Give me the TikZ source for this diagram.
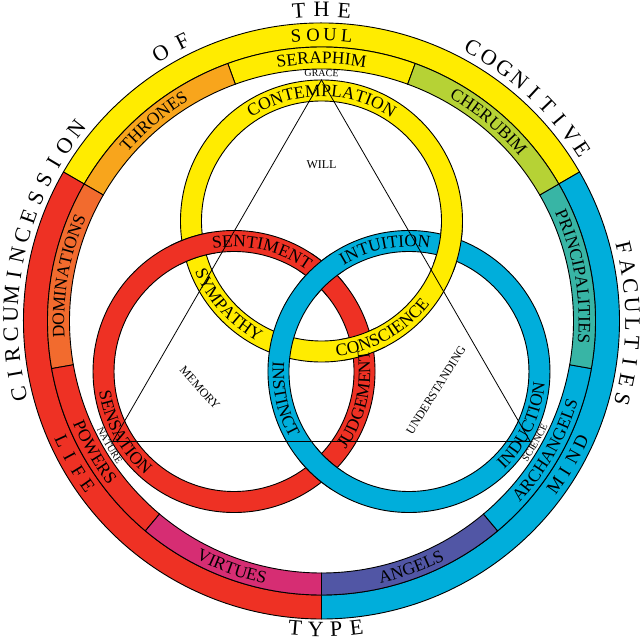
\documentclass[tikz,border=0pt]{standalone}
\usepackage{fontspec}
\setmainfont{Liberation Serif}
\usetikzlibrary{decorations.text}
\definecolor{cyel}{RGB}{255,236,0}
\definecolor{cred}{RGB}{238,49,36}
\definecolor{cblu}{RGB}{0,174,219}
\definecolor{cora}{RGB}{248,165,28}
\definecolor{cgrn}{RGB}{182,210,53}
\definecolor{cdom}{RGB}{242,107,46}
\definecolor{cvir}{RGB}{214,45,115}
\definecolor{cang}{RGB}{81,86,165}
\definecolor{cpri}{RGB}{56,181,165}
\tikzset{
  edgeline/.style={draw=black, line width=0.9pt},
  bigletter/.style={inner sep=0pt, outer sep=0pt, font=\fontsize{22}{22}\selectfont},
  bandletter/.style={inner sep=0pt, outer sep=0pt, font=\fontsize{18.5}{18.5}\selectfont},
  smalllabel/.style={inner sep=0pt, outer sep=0pt, font=\fontsize{12}{12}\selectfont},
}
% annular sector: colour, a1, a2, r_in, r_out
\newcommand\bandsector[5]{%
  \filldraw[fill=#1, edgeline] (#2:#5) arc[start angle=#2, end angle=#3, radius=#5]
    -- (#3:#4) arc[start angle=#3, end angle=#2, radius=#4] -- cycle;}
% ring: cx, cy, colour
\newcommand\fullring[3]{%
  \fill[#3, even odd rule] (#1,#2) circle[radius=141pt] (#1,#2) circle[radius=120pt];
  \draw[edgeline] (#1,#2) circle[radius=141pt] (#1,#2) circle[radius=120pt];}
% overlay of a ring piece: cx, cy, colour, angle
\newcommand\ringover[4]{%
  \begin{scope}[shift={(#1,#2)}]
  \fill[#3] ({#4-9}:141pt) arc[start angle={#4-9}, end angle={#4+9}, radius=141pt]
    -- ({#4+9}:120pt) arc[start angle={#4+9}, end angle={#4-9}, radius=120pt] -- cycle;
  \draw[edgeline] ({#4-9}:141pt) arc[start angle={#4-9}, end angle={#4+9}, radius=141pt];
  \draw[edgeline] ({#4-9}:120pt) arc[start angle={#4-9}, end angle={#4+9}, radius=120pt];
  \end{scope}}
% text along arcs: cx, cy, baseline radius, centre angle, size, text
\newcommand\cwtext[6]{%
  \path[shift={(#1,#2)}, decorate, decoration={text along path, text align=center,
    text={|\fontsize{#5}{#5}\selectfont|#6}}]
    ({#4+70}:#3) arc[start angle={#4+70}, end angle={#4-70}, radius=#3];}
\newcommand\ccwtext[6]{%
  \path[shift={(#1,#2)}, decorate, decoration={text along path, text align=center,
    text={|\fontsize{#5}{#5}\selectfont|#6}}]
    ({#4-70}:#3) arc[start angle={#4-70}, end angle={#4+70}, radius=#3];}
% spaced letters: radius, first angle, step, style, list
\newcommand\cwletters[5]{%
  \foreach \ch [count=\i] in {#5} {
    \pgfmathsetmacro\ang{#2-(\i-1)*#3}
    \node[#4, rotate=\ang-90] at (\ang:#1) {\ch};}}
\newcommand\ccwletters[5]{%
  \foreach \ch [count=\i] in {#5} {
    \pgfmathsetmacro\ang{#2+(\i-1)*#3}
    \node[#4, rotate=\ang+90] at (\ang:#1) {\ch};}}
\begin{document}
\begin{tikzpicture}[x=1pt, y=1pt]
\useasboundingbox (-321.5,-319) rectangle (321.5,321);
\fill[white] (-321.5,-319) rectangle (321.5,321);

% outer band
\bandsector{cyel}{30}{150}{274pt}{298pt}
\bandsector{cred}{150}{270}{274pt}{298pt}
\bandsector{cblu}{270}{390}{274pt}{298pt}
% choir band
\bandsector{cyel}{70}{110}{252pt}{274pt}
\bandsector{cora}{110}{150}{252pt}{274pt}
\bandsector{cdom}{150}{190}{252pt}{274pt}
\bandsector{cred}{190}{230}{252pt}{274pt}
\bandsector{cvir}{230}{270}{252pt}{274pt}
\bandsector{cang}{270}{310}{252pt}{274pt}
\bandsector{cblu}{310}{350}{252pt}{274pt}
\bandsector{cpri}{350}{390}{252pt}{274pt}
\bandsector{cgrn}{30}{70}{252pt}{274pt}

% three rings
\fullring{0}{100}{cyel}
\fullring{-87.47}{-50.5}{cred}
\fullring{87.47}{-50.5}{cblu}
% crossings
\ringover{0}{100}{cyel}{347.9}
\ringover{-87.47}{-50.5}{cred}{107.9}
\ringover{87.47}{-50.5}{cblu}{227.9}
\ringover{0}{100}{cyel}{287.9}
\ringover{-87.47}{-50.5}{cred}{47.9}
\ringover{87.47}{-50.5}{cblu}{132.1}

% triangle
\coordinate (grace) at (90:241pt);
\coordinate (nature) at (210:241pt);
\coordinate (science) at (330:241pt);
\draw[black, line width=0.8pt] (grace) -- (nature) -- (science) -- cycle;

% outer words
\cwletters{311pt}{193.6}{3.69}{bigletter}{C,I,R,C,U,M,I,N,C,E,S,S,I,O,N}
\cwletters{312pt}{121}{4.5}{bigletter}{O,F}
\cwletters{311.5pt}{94.2}{4.2}{bigletter}{T,H,E}
\cwletters{312pt}{61}{3.46}{bigletter}{C,O,G,N,I,T,I,V,E}
\cwletters{311pt}{13.6}{3.53}{bigletter}{F,A,C,U,L,T,I,E,S}
\ccwletters{308.5pt}{265.1}{3.8}{bigletter}{T,Y,P,E}

% outer band words
\cwletters{286pt}{95.1}{3.4}{bandletter}{S,O,U,L}
\ccwletters{286pt}{204.9}{3.4}{bandletter}{L,I,F,E}
\ccwletters{286pt}{324.9}{3.4}{bandletter}{M,I,N,D}

% choirs
\cwtext{0}{0}{257.2pt}{90}{17.5}{SERAPHIM}
\cwtext{0}{0}{257.2pt}{130}{17.5}{THRONES}
\cwtext{0}{0}{257.2pt}{50}{17.5}{CHERUBIM}
\cwtext{0}{0}{257.2pt}{170}{17.5}{DOMINATIONS}
\cwtext{0}{0}{257.2pt}{10}{17.5}{PRINCIPALITIES}
\ccwtext{0}{0}{268.8pt}{210}{17.5}{POWERS}
\ccwtext{0}{0}{268.8pt}{250}{17.5}{VIRTUES}
\ccwtext{0}{0}{268.8pt}{290}{17.5}{ANGELS}
\ccwtext{0}{0}{268.8pt}{330}{17.5}{ARCHANGELS}

% vertex words
\cwtext{0}{0}{244.7pt}{90}{10}{GRACE}
\ccwtext{0}{0}{249.3pt}{210.4}{10}{NATURE}
\ccwtext{0}{0}{249.3pt}{330.3}{10}{SCIENCE}

% ring words
\cwtext{0}{100}{124.7pt}{90}{17.5}{CONTEMPLATION}
\ccwtext{0}{100}{136.3pt}{222}{17.5}{SYMPATHY}
\ccwtext{0}{100}{136.3pt}{299.5}{17.5}{CONSCIENCE}
\cwtext{-87.47}{-50.5}{124.7pt}{77}{17.5}{SENTIMENT}
\ccwtext{-87.47}{-50.5}{136.3pt}{209}{17.5}{SENSATION}
\ccwtext{-87.47}{-50.5}{136.3pt}{347}{17.5}{JUDGEMENT}
\cwtext{87.47}{-50.5}{124.7pt}{101}{17.5}{INTUITION}
\ccwtext{87.47}{-50.5}{136.3pt}{192.6}{17.5}{INSTINCT}
\ccwtext{87.47}{-50.5}{136.3pt}{334.7}{17.5}{INDUCTION}

% inner words
\node[smalllabel] (will) at (0,156) {WILL};
\node[smalllabel, rotate=-48] (memory) at (-121.5,-67) {MEMORY};
\node[smalllabel, rotate=58] (understanding) at (114.5,-69) {UNDERSTANDING};
\end{tikzpicture}
\end{document}
